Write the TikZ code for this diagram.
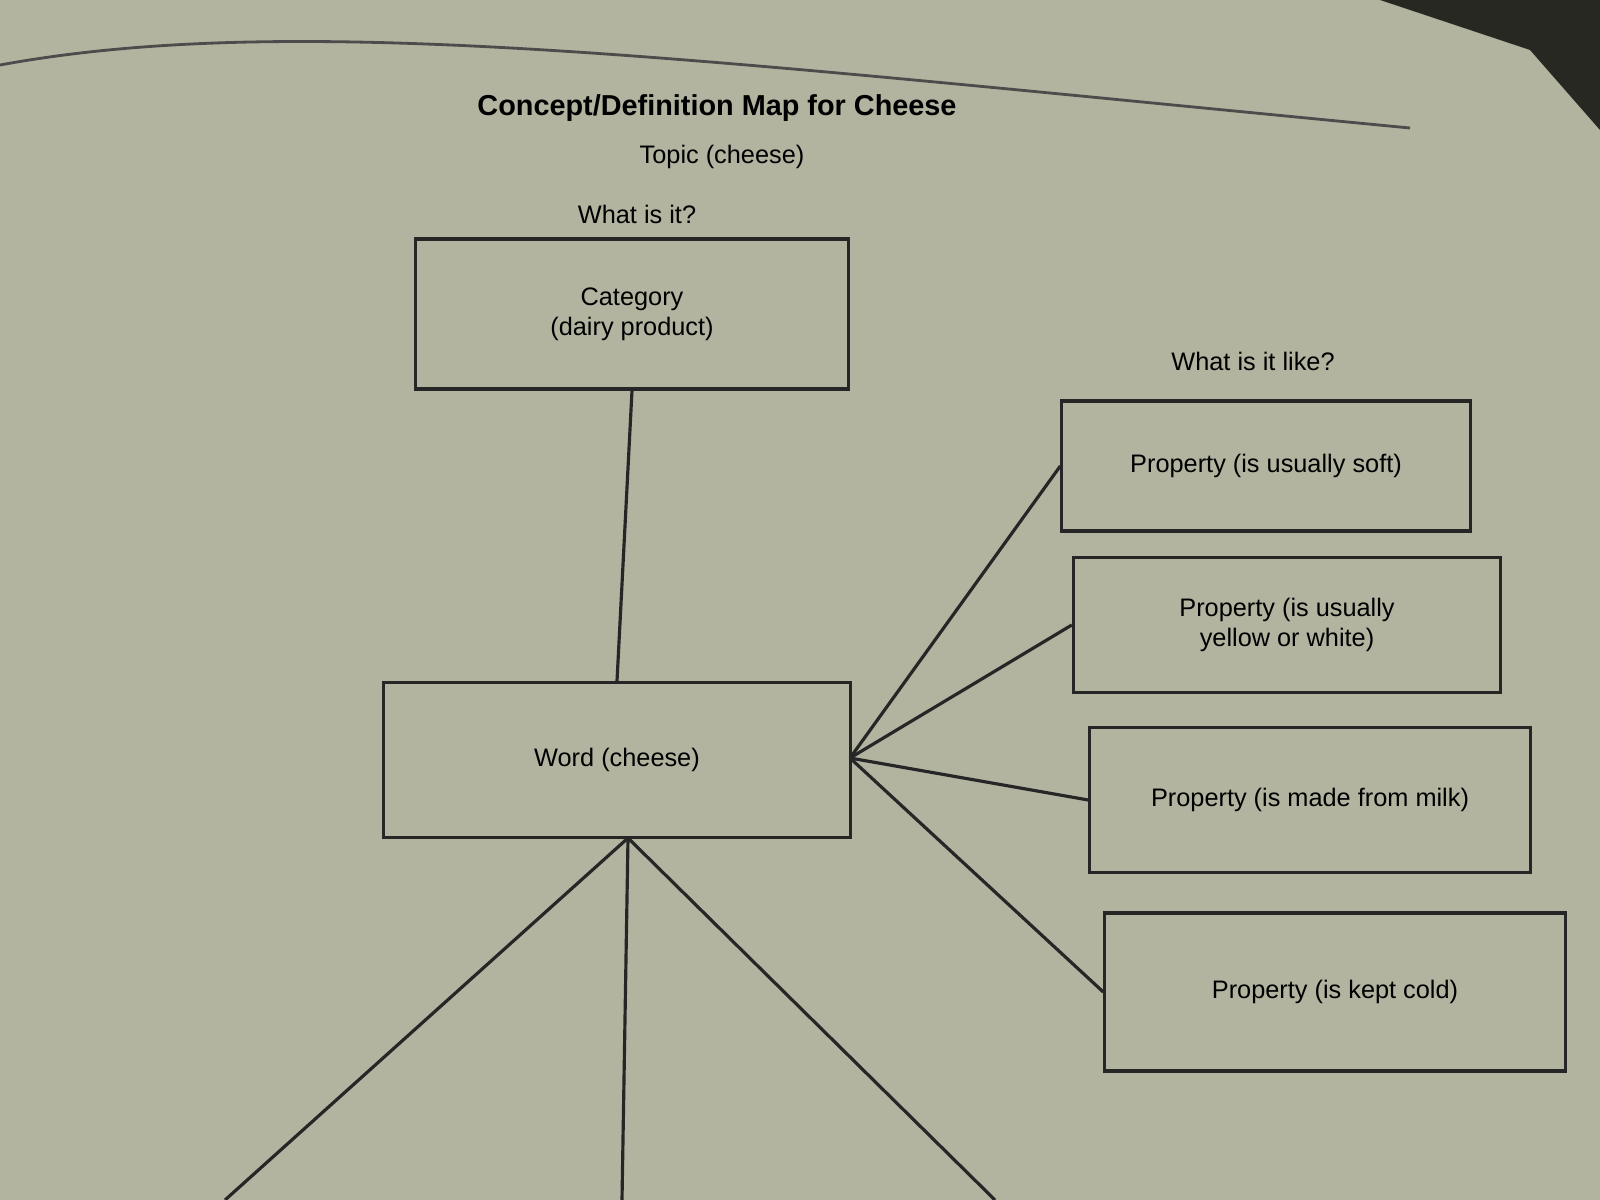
\documentclass[tikz,border=0pt]{standalone}
\usepackage{fontspec}
\setmainfont{Liberation Sans}
\begin{document}
\begin{tikzpicture}[x=0.01cm,y=-0.01cm,
  box/.style={draw=black!85,line width=0.9pt,fill=none,align=center,inner sep=0pt,font=\fontsize{7.2}{8.6}\selectfont},
  lbl/.style={font=\fontsize{7.2}{8.6}\selectfont},
  link/.style={draw=black!85,line width=0.9pt}]
\useasboundingbox (0,0) rectangle (1600,1200);
\fill[color={rgb,255:red,178;green,180;blue,160}] (0,0) rectangle (1600,1200);
\fill[color={rgb,255:red,40;green,40;blue,35}] (1380,0) -- (1600,0) -- (1600,130) -- (1530,50) -- cycle;
\draw[black!70,line width=0.8pt] (0,65) .. controls (300,10) and (700,60) .. (1410,128);
\node[font=\fontsize{8.2}{10}\selectfont\bfseries] (title) at (717,108) {Concept/Definition Map for Cheese};
\node[lbl] (topic) at (722,157) {Topic (cheese)};
\node[lbl] (q1) at (637,214) {What is it?};
\node[lbl] (q2) at (1253,361) {What is it like?};
\node[box,minimum width=4.33cm,minimum height=1.5cm] (cat) at (632,314) {Category\\(dairy product)};
\node[box,minimum width=4.67cm,minimum height=1.55cm] (word) at (617,760) {Word (cheese)};
\node[box,minimum width=4.08cm,minimum height=1.3cm] (p1) at (1266,466) {Property (is usually soft)};
\node[box,minimum width=4.27cm,minimum height=1.35cm] (p2) at (1287,625) {Property (is usually\\yellow or white)};
\node[box,minimum width=4.4cm,minimum height=1.45cm] (p3) at (1310,800) {Property (is made from milk)};
\node[box,minimum width=4.6cm,minimum height=1.58cm] (p4) at (1335,992) {Property (is kept cold)};
\coordinate (wr) at (850,758);
\coordinate (wb) at (628,838);
\coordinate (e1) at (225,1200);
\coordinate (e2) at (622,1200);
\coordinate (e3) at (995,1200);
\draw[link] (cat.south) -- (word.north);
\draw[link] (wr) -- (p1.west);
\draw[link] (wr) -- (p2.west);
\draw[link] (wr) -- (p3.west);
\draw[link] (wr) -- (p4.west);
\draw[link] (wb) -- (e1);
\draw[link] (wb) -- (e2);
\draw[link] (wb) -- (e3);
\end{tikzpicture}
\end{document}
